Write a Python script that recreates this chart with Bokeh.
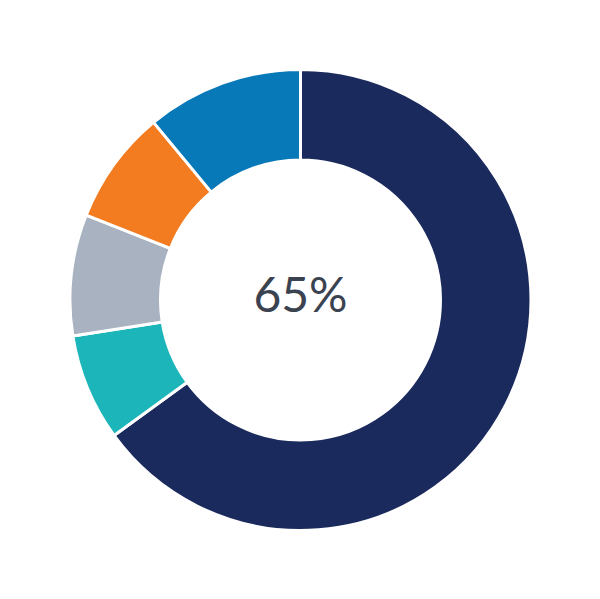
import numpy as np
from bokeh.plotting import figure
from bokeh.models import ColumnDataSource
from bokeh.core.properties import value
from bokeh.embed import file_html
from bokeh.resources import INLINE

categories = ["Navy", "Teal", "Gray", "Orange", "Blue"]
shares = [65, 7.5, 8.5, 8, 11]
colors = ["#1b2a5c", "#1cb5b9", "#a8b2c1", "#f37b20", "#0778b8"]
center_label = "65%"

total = sum(shares)
cum = np.cumsum([0] + shares) / total
start = [np.pi / 2 - c * 2 * np.pi for c in cum[:-1]]
end = [np.pi / 2 - c * 2 * np.pi for c in cum[1:]]

src = ColumnDataSource(dict(cat=categories, start=start, end=end, color=colors))

W, H = 584, 583
p = figure(width=W, height=H, x_range=(-300, W - 300), y_range=(299.5 - H, 299.5),
           output_backend="svg", toolbar_location=None, min_border=0)
p.axis.visible = False
p.grid.visible = False
p.outline_line_color = None
p.background_fill_color = "white"

p.annular_wedge(x=0, y=0, inner_radius=140, outer_radius=230.5,
                start_angle="start", end_angle="end", direction="clock",
                fill_color="color", line_color="white", line_width=3, source=src)

p.text(x=[0], y=[7], text=[center_label], text_font=value("Lato"),
       text_font_size="48px", text_color="#3b4250", text_align="center",
       text_baseline="middle")

open("out.html", "w").write(file_html(p, INLINE))
